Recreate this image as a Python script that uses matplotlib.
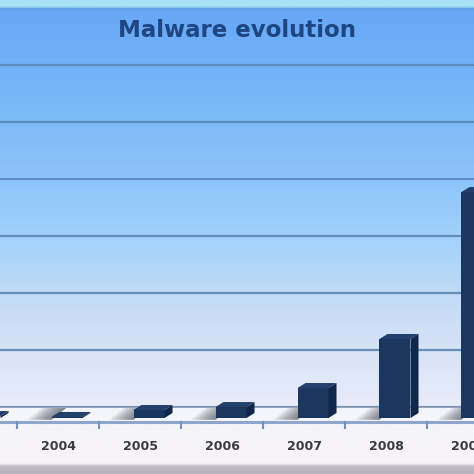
import matplotlib
matplotlib.use("Agg")
import matplotlib.pyplot as plt
import numpy as np
from matplotlib.colors import LinearSegmentedColormap
from matplotlib.patches import Polygon

# data (new malware samples, thousands)
years = ["2003", "2004", "2005", "2006", "2007", "2008", "2009"]
samples = [17, 9, 70, 96, 263, 693, 1982]
grid_step = 500
n_grid = 7

title = "Malware evolution"

W = H = 474
fig = plt.figure(figsize=(W / 100, H / 100), dpi=100)
ax = fig.add_axes([0, 0, 1, 1])

# scales: 82 px per category, 57 px per grid step, floor front at pixel row 418
px_x = 82.0
px_y = 57.0 / grid_step
x0 = 1 - 58 / px_x
ax.set_xlim(x0, x0 + W / px_x)
y_top = 418 / px_y
ax.set_ylim(y_top - H / px_y, y_top)
ax.axis("off")


def row(y_px):
    """pixel row from top -> data y"""
    return y_top - y_px / px_y


# background gradient
stops = [(0.0, "#a8e2f4"), (0.011, "#a8e2f4"), (0.014, "#5f9fe6"), (0.022, "#68a8f6"),
         (0.14, "#73b1f8"), (0.38, "#8dc5fa"), (0.51, "#a4d2fb"), (0.63, "#c3dbf6"),
         (0.74, "#d7e3f7"), (0.85, "#e7ebfa"), (0.89, "#f4f4fa"), (0.98, "#f8f4f8"),
         (0.985, "#c4bfc6"), (1.0, "#b8b3bb")]
cmap = LinearSegmentedColormap.from_list("bg", stops)
grad = np.linspace(0, 1, 600).reshape(-1, 1)
ax.imshow(grad, cmap=cmap, aspect="auto", extent=[0, 1, 0, 1],
          transform=ax.transAxes, zorder=0, interpolation="bilinear")

# back wall gridlines
wall0 = row(407)
for k in range(n_grid):
    ax.axhline(wall0 + k * grid_step, color="#5a86b6", lw=1.6, alpha=0.9, zorder=1)

# floor slab
xs = ax.get_xlim()
ax.fill_between(xs, row(421), wall0, color="#f3f5fb", zorder=1.5, lw=0)
ax.axhline(wall0, color="#8496ae", lw=1.2, zorder=1.6)

# axis line + tick marks between categories
ax.axhline(row(422), color="#8ea5cc", lw=2.2, zorder=2)
for i in range(len(years) + 1):
    ax.plot([i - 0.5, i - 0.5], [row(422), row(428)], color="#7990bd", lw=1.5, zorder=2)

# 3d bars
bar_off = 9 / px_x
bar_w = 31 / px_x
dx = 8 / px_x
dy = 5 / px_y
for i, v in enumerate(samples):
    left = i + bar_off - bar_w / 2
    right = left + bar_w
    # soft shadow on floor, darker close to the bar
    for s in range(8):
        sh = (s + 1) * 3 / px_x
        ax.add_patch(Polygon([(left - sh, -15), (left, -15), (left + dx + 0.08, dy * 2),
                              (left - sh + dx + 0.08, dy * 2)],
                             closed=True, color="#3c4250", alpha=0.11, lw=0, zorder=2.5))
    ax.bar(i + bar_off, v, width=bar_w, bottom=0, color="#1b365f", lw=0, zorder=3)
    ax.add_patch(Polygon([(right, 0), (right + dx, dy), (right + dx, v + dy), (right, v)],
                         closed=True, color="#10264a", lw=0, zorder=3))
    ax.add_patch(Polygon([(left, v), (left + dx, v + dy), (right + dx, v + dy), (right, v)],
                         closed=True, color="#233f6c", lw=0, zorder=3))

# category labels
for i, y in enumerate(years):
    ax.text(i, row(446), y, ha="center", va="center", fontsize=9,
            fontweight="bold", color="#3b3b3e", family="DejaVu Sans", zorder=4)

ax.text(0.5, 1 - 37 / H, title, transform=ax.transAxes, ha="center", va="baseline",
        fontsize=16.5, fontweight="bold", color="#1d4682", family="DejaVu Sans", zorder=4)

fig.savefig("out.png", dpi=100)
